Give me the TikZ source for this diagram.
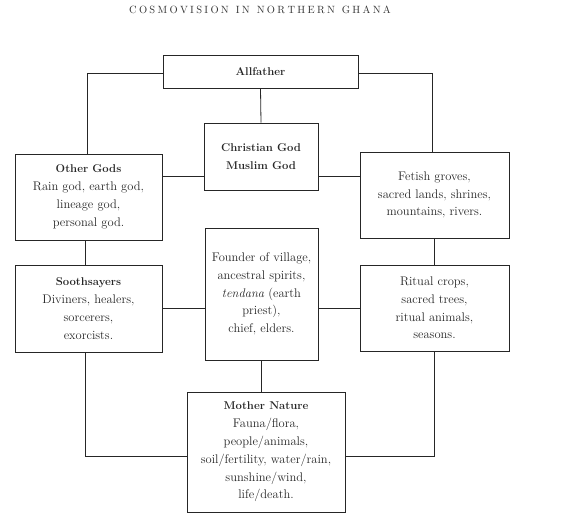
\documentclass[tikz,border=0pt]{standalone}
\usepackage{fontspec}
\newcommand\hdtxt[1]{{\fontsize{11.3}{17.5}\selectfont\textbf{#1}}}
\newcommand\lsp{\kern2.3pt}
\begin{document}
\begin{tikzpicture}[x=1pt,y=-1pt,
  box/.style={draw=black!85,line width=0.8pt,rectangle,inner sep=0pt,align=center,
    font=\fontsize{12.5}{17.8}\selectfont,text=black!85},
  link/.style={draw=black!85,line width=0.8pt}]
\useasboundingbox (0,0) rectangle (563,519);
\node[font=\fontsize{10.5}{12}\selectfont,text=black!80] (title) at (260,10) {C\lsp O\lsp S\lsp M\lsp O\lsp V\lsp I\lsp S\lsp I\lsp O\lsp N\hspace{7pt}I\lsp N\hspace{7pt}N\lsp O\lsp R\lsp T\lsp H\lsp E\lsp R\lsp N\hspace{7pt}G\lsp H\lsp A\lsp N\lsp A};
\node[box,minimum width=195pt,minimum height=33pt] (all) at (260.5,71.5) {\hdtxt{Allfather}};
\node[box,minimum width=114pt,minimum height=67pt] (chr) at (261,156.5) {\hdtxt{Christian God}\\\hdtxt{Muslim God}};
\node[box,minimum width=147pt,minimum height=86pt] (og) at (88.5,197) {\hdtxt{Other Gods}\\Rain god, earth god,\\lineage god,\\personal god.};
\node[box,minimum width=149pt,minimum height=86pt] (fet) at (434.5,195) {Fetish groves,\\sacred lands, shrines,\\mountains, rivers.};
\node[box,minimum width=113pt,minimum height=132pt] (fou) at (261.5,294) {Founder of village,\\ancestral spirits,\\\textit{tendana} (earth\\priest),\\chief, elders.};
\node[box,minimum width=147pt,minimum height=87pt] (soo) at (88.5,308.5) {\hdtxt{Soothsayers}\\Diviners, healers,\\sorcerers,\\exorcists.};
\node[box,minimum width=149pt,minimum height=86pt] (rit) at (434.5,308) {Ritual crops,\\sacred trees,\\ritual animals,\\seasons.};
\node[box,minimum width=158pt,minimum height=120pt] (mot) at (266,452) {\hdtxt{Mother Nature}\\Fauna/flora,\\people/animals,\\soil/fertility, water/rain,\\sunshine/wind,\\life/death.};
% connectors
\coordinate (cl) at (87,73);
\coordinate (cr) at (432,73);
\draw[link] (all.west |- cl) -- (cl) -- (og.north -| cl);
\draw[link] (all.east |- cr) -- (cr) -- (fet.north -| cr);
\draw[link] (all.south) -- (chr.north);
\coordinate (ychr) at (0,176);
\draw[link] (og.east |- ychr) -- (chr.west |- ychr);
\draw[link] (chr.east |- ychr) -- (fet.west |- ychr);
\coordinate (xl) at (85,0);
\coordinate (xr) at (434.5,0);
\draw[link] (og.south -| xl) -- (soo.north -| xl);
\draw[link] (fet.south -| xr) -- (rit.north -| xr);
\coordinate (yfou) at (0,308);
\draw[link] (soo.east |- yfou) -- (fou.west |- yfou);
\draw[link] (fou.east |- yfou) -- (rit.west |- yfou);
\draw[link] (fou.south) -- (mot.north -| fou.south);
\coordinate (ml) at (85,456);
\coordinate (mr) at (434.5,456);
\draw[link] (soo.south -| ml) -- (ml) -- (mot.west |- ml);
\draw[link] (rit.south -| mr) -- (mr) -- (mot.east |- mr);
\end{tikzpicture}
\end{document}
